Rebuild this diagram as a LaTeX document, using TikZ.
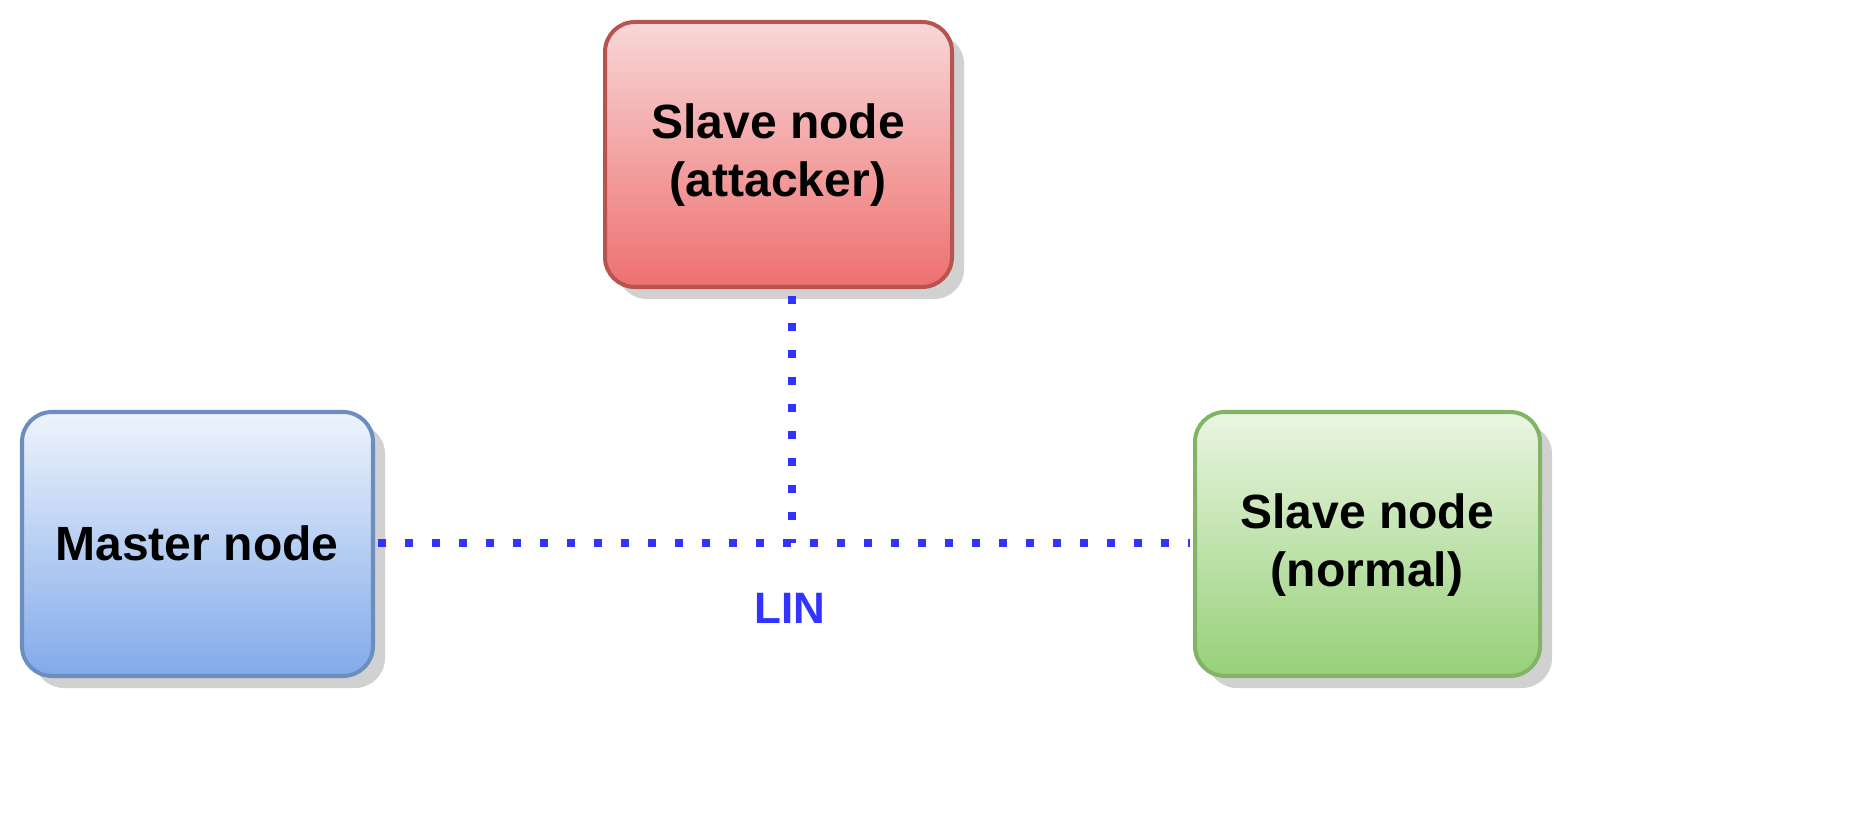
\documentclass[tikz,border=0pt]{standalone}
\usepackage{fontspec}
\setmainfont{Liberation Sans}
\definecolor{rb}{HTML}{B85450}\definecolor{rt}{HTML}{F8D7D7}\definecolor{rbo}{HTML}{EE7070}
\definecolor{bb}{HTML}{6C8EBF}\definecolor{bt}{HTML}{EEF4FC}\definecolor{bbo}{HTML}{82AAEA}
\definecolor{gb}{HTML}{82B366}\definecolor{gt}{HTML}{EAF5E3}\definecolor{gbo}{HTML}{97D077}
\definecolor{linc}{HTML}{3333FF}
\begin{document}
\begin{tikzpicture}[x=0.01cm,y=-0.01cm,
  box/.style={rounded corners=8.5pt,line width=1.14pt,align=center,font=\fontsize{13.66}{16.5}\selectfont\bfseries},
  shadowbox/.style={fill=black!18,rounded corners=8.5pt},
  lin/.style={draw=linc,line width=2.28pt,dash pattern=on 2.28pt off 5.4pt}]
\useasboundingbox (0,0) rectangle (1860,837);
\fill[shadowbox] (617,34) rectangle (964,299);
\fill[shadowbox] (34,424) rectangle (385,688);
\fill[shadowbox] (1207,424) rectangle (1552,688);
\draw[box,draw=rb,top color=rt,bottom color=rbo] (605,22) rectangle (952,287);
\draw[box,draw=bb,top color=bt,bottom color=bbo] (22,412) rectangle (373,676);
\draw[box,draw=gb,top color=gt,bottom color=gbo] (1195,412) rectangle (1540,676);
\node[box,draw=none] (att) at (778,155) {Slave node\\(attacker)};
\node[box,draw=none] (mst) at (197,543) {Master node};
\node[box,draw=none] (nrm) at (1367,545) {Slave node\\(normal)};
\coordinate (j) at (792,543);
\coordinate (attb) at (792,296);
\coordinate (mstr) at (378,543);
\coordinate (nrml) at (1190,543);
\draw[lin] (attb) -- (j);
\draw[lin] (mstr) -- (nrml);
\node[font=\fontsize{12.5}{15}\selectfont\bfseries,text=linc] (lin) at (790,608) {LIN};
\end{tikzpicture}
\end{document}
